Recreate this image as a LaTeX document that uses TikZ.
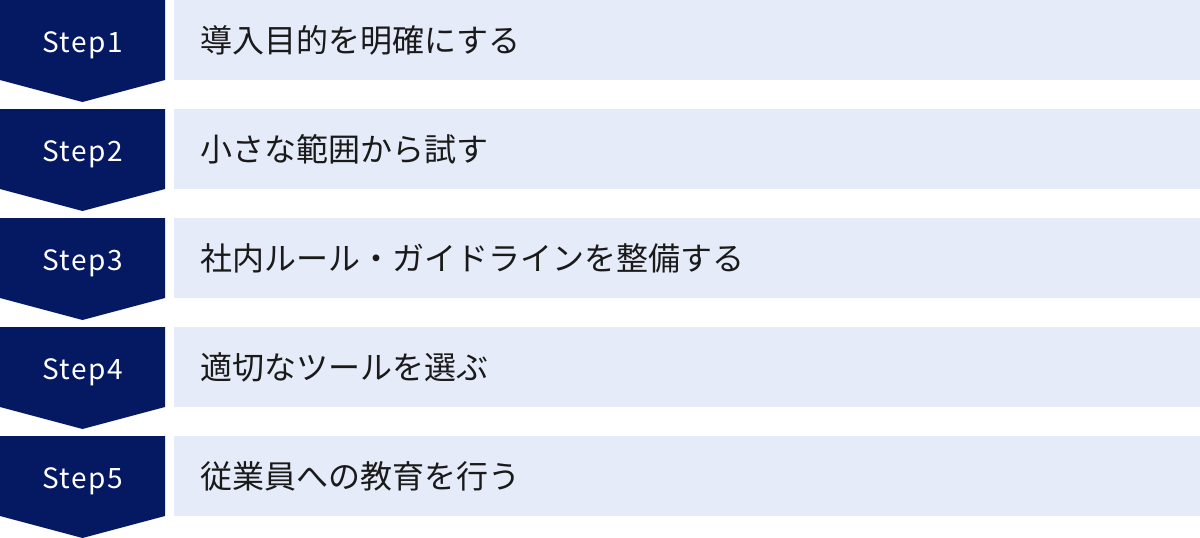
\documentclass[tikz,border=0pt]{standalone}
\usepackage{fontspec}
\setmainfont{Noto Sans}
\newfontfamily\jpfont{Noto Sans CJK JP}
\newfontfamily\stepfont[LetterSpace=5]{Noto Sans CJK JP}
\usepackage{xcolor}
\definecolor{stepnavy}{HTML}{051862}
\definecolor{barblue}{HTML}{E5EBF8}
\definecolor{tasktext}{HTML}{1A1A1A}
\usetikzlibrary{positioning}

\tikzset{
  steplabel/.style={text=white, inner sep=0pt, anchor=base, font=\stepfont\fontsize{28}{32}\selectfont},
  tasklabel/.style={text=tasktext, inner sep=0pt, anchor=west, font=\jpfont\fontsize{32}{38}\selectfont}
}

\begin{document}
\begin{tikzpicture}[x=1pt, y=-1pt] % five steps

  \useasboundingbox (0,0) rectangle (1200,538);
  \foreach \n/\task in {1/導入目的を明確にする, 2/小さな範囲から試す,
      3/社内ルール・ガイドラインを整備する, 4/適切なツールを選ぶ,
      5/従業員への教育を行う} {
    \pgfmathsetmacro\rowtop{109*(\n-1)}
    \fill [stepnavy] (0,\rowtop) -- (165,\rowtop) -- (165,\rowtop+80)
      -- (82.5,\rowtop+102) -- (0,\rowtop+80) -- cycle;
    \fill [barblue] (174,\rowtop) rectangle (1200,\rowtop+80);
    \node [steplabel] (step\n) at (82.5,\rowtop+52.5) {Step\n};
    \node [tasklabel] (task\n) at (200,\rowtop+40) {\task};
  }

\end{tikzpicture}
\end{document}
